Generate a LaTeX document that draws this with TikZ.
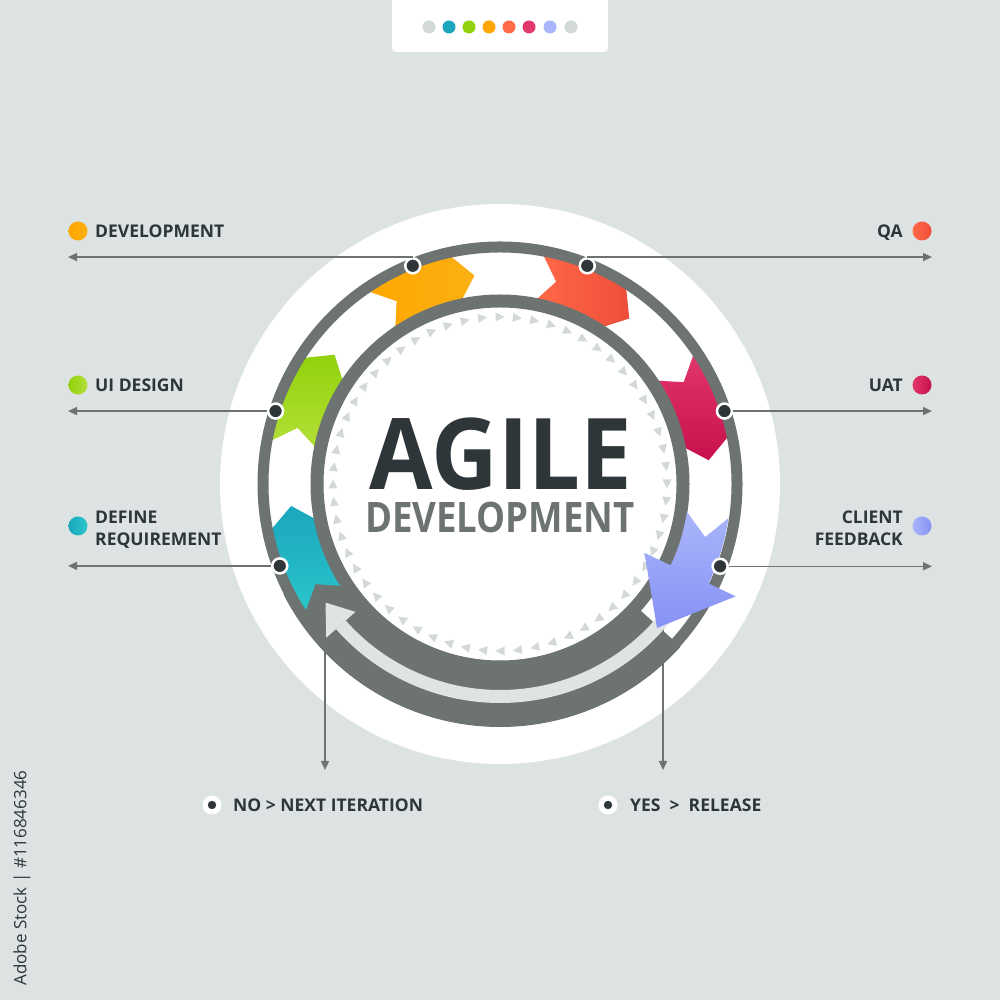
\documentclass[tikz,border=0pt]{standalone}
\usepackage{fontspec}
\setmainfont{Open Sans}
\usetikzlibrary{arrows.meta}
\definecolor{bg}{HTML}{DDE2E2}
\definecolor{ringg}{HTML}{6D7371}
\definecolor{darkt}{HTML}{2F3639}
\definecolor{tri}{HTML}{D3D8D8}
\definecolor{lite}{HTML}{DFE3E3}
\definecolor{cOr}{HTML}{FFA600}
\definecolor{cOr2}{HTML}{FBB012}
\definecolor{cRd}{HTML}{FF6A47}
\definecolor{cRd2}{HTML}{EE4E3A}
\definecolor{cCr}{HTML}{E2386B}
\definecolor{cCr2}{HTML}{C8104C}
\definecolor{cGr}{HTML}{92D10C}
\definecolor{cGr2}{HTML}{B4E03A}
\definecolor{cTe}{HTML}{1BA6BD}
\definecolor{cTe2}{HTML}{2BC7CC}
\definecolor{cBl}{HTML}{A9B5FA}
\definecolor{cBl2}{HTML}{8691F5}
\newcommand\chevron[2]{%
  \path[#2] ({#1+14}:183) arc[start angle={#1+14}, end angle={#1-8}, radius=183]
    -- ({#1-14}:210) -- ({#1-8}:237)
    arc[start angle={#1-8}, end angle={#1+14}, radius=237]
    -- ({#1+8.5}:210) -- cycle;}
\begin{document}
\begin{tikzpicture}[x=1pt,y=1pt,
  conn/.style={draw=ringg, line width=1.4pt, -{Triangle[length=9pt,width=8pt]}},
  pin/.style={circle, fill=darkt, draw=white, line width=2.5pt, minimum size=15pt, inner sep=0pt},
  lab/.style={font=\bfseries\fontsize{17.5}{22}\selectfont, text=darkt, inner sep=0pt, text depth=0pt},
  ldot/.style={circle, inner sep=0pt, minimum size=19pt},
  tdot/.style={circle, inner sep=0pt, minimum size=13pt},
]
\fill[bg] (0,0) rectangle (1000,1000);
\useasboundingbox (0,0) rectangle (1000,1000);
% top bar
\fill[white, rounded corners=4pt] (392,948) rectangle (608,1010);
\foreach \x/\c [count=\i] in {429/tri,449/cTe,469/cGr,489/cOr,509/cRd,529/cCr,550/cBl,571/tri}
  \node[tdot, fill=\c] (top\i) at (\x,973) {};
% side text
\node[rotate=90, font=\fontsize{17}{17}\selectfont, text=darkt, inner sep=0pt] (wm) at (22,122) {Adobe Stock | \#116846346};

\begin{scope}[shift={(500,516)}]
  \fill[white] (0,0) circle (280);
  % vertical connectors (behind the band)
  \coordinate (vA) at (-175,-116);
  \coordinate (vB) at (163,-136);
  \coordinate (vAe) at (-175,-286);
  \coordinate (vBe) at (163,-286);
  \draw[conn] (vA) -- (vAe);
  \draw[conn] (vB) -- (vBe);
  % small triangles
  \foreach \a in {0,6,...,354}
    \fill[tri, rotate=\a] (167,-4.5) -- (162.5,4.5) -- (171.5,4.5) -- cycle;
  % chevron arrows
  \chevron{156}{shade, top color=cGr, bottom color=cGr2}
  \chevron{111}{shade, left color=cOr, right color=cOr2}
  \chevron{66}{shade, left color=cRd, right color=cRd2}
  \chevron{20.5}{shade, top color=cCr, bottom color=cCr2}
  % gray band
  \fill[ringg] (207:243) arc[start angle=207, end angle=318, radius=243]
     -- (318:177) arc[start angle=318, end angle=207, radius=177] -- cycle;
  \chevron{200}{shade, top color=cTe, bottom color=cTe2}
  % rings
  \draw[ringg, line width=11pt] (0,0) circle (237);
  \draw[ringg, line width=13pt] (0,0) circle (183);
  % light return arrow
  \draw[lite, line width=13pt] (-38:212.5) arc[start angle=-38, end angle=-138.5, radius=212.5];
  \fill[lite] (-138.5:193) -- (-145.8:211) -- (-138.5:232) -- cycle;
  % blue arrow
  \path[shade, top color=cBl, bottom color=cBl2]
    (-8.5:189) arc[start angle=-8.5, end angle=-25.5, radius=189]
    -- (-25.5:160) -- (-42.5:213) -- (-25.5:261) -- (-25.5:231)
    arc[start angle=-25.5, end angle=-8.5, radius=231] -- (-14.5:212) -- cycle;
  % pins
  \node[pin] (pDev) at (111.8:235) {};
  \node[pin] (pQA)  at (68.2:235) {};
  \node[pin] (pUI)  at (162:236) {};
  \node[pin] (pUAT) at (18:236) {};
  \node[pin] (pDef) at (200.4:235) {};
  \node[pin] (pCF)  at (-20.5:235) {};
  % center title
  \node[font=\bfseries\fontsize{99}{99}\selectfont, text=darkt, inner sep=0pt, text depth=0pt, xscale=0.93] (title) at (1,30) {AGILE};
  \node[font=\bfseries\fontsize{42}{42}\selectfont, text=ringg, inner sep=0pt, text depth=0pt, xscale=0.87] (sub) at (0,-33) {DEVELOPMENT};
\end{scope}

% side connectors
\coordinate (lx) at (68,0);
\coordinate (rx) at (932,0);
\draw[conn] (pDev.north) -- (pDev.north -| lx);
\draw[conn] (pQA.north) -- (pQA.north -| rx);
\draw[conn] (pUI) -- (pUI -| lx);
\draw[conn] (pUAT) -- (pUAT -| rx);
\draw[conn] (pDef) -- (pDef -| lx);
\draw[conn] (pCF) -- (pCF -| rx);

% labels left
\node[ldot, left color=cOr, right color=cOr2] (dDev) at (78,769) {};
\node[lab, anchor=west] (tDev) at (95,769) {DEVELOPMENT};
\node[ldot, left color=cGr, right color=cGr2] (dUI) at (78,615) {};
\node[lab, anchor=west] (tUI) at (95,615) {UI DESIGN};
\node[ldot, left color=cTe, right color=cTe2] (dDef) at (78,474) {};
\node[lab, anchor=west, align=left] (tDef) at (95,472) {DEFINE\\REQUIREMENT};
% labels right
\node[ldot, left color=cRd, right color=cRd2] (dQA) at (922,769) {};
\node[lab, anchor=east] (tQA) at (903,769) {QA};
\node[ldot, left color=cCr, right color=cCr2] (dUAT) at (922,615) {};
\node[lab, anchor=east] (tUAT) at (903,615) {UAT};
\node[ldot, left color=cBl, right color=cBl2] (dCF) at (922,474) {};
\node[lab, anchor=east, align=right] (tCF) at (903,472) {CLIENT\\FEEDBACK};
% bottom outcomes
\node[circle, fill=white, inner sep=0pt, minimum size=19pt] (oNo) at (212,195) {};
\fill[darkt] (oNo) circle (4.2);
\node[lab, anchor=west] (tNo) at (233,195) {NO > NEXT ITERATION};
\node[circle, fill=white, inner sep=0pt, minimum size=19pt] (oYes) at (608,195) {};
\fill[darkt] (oYes) circle (4.2);
\node[lab, anchor=west] (tYes) at (630,195) {YES \ > \ RELEASE};
\end{tikzpicture}
\end{document}
